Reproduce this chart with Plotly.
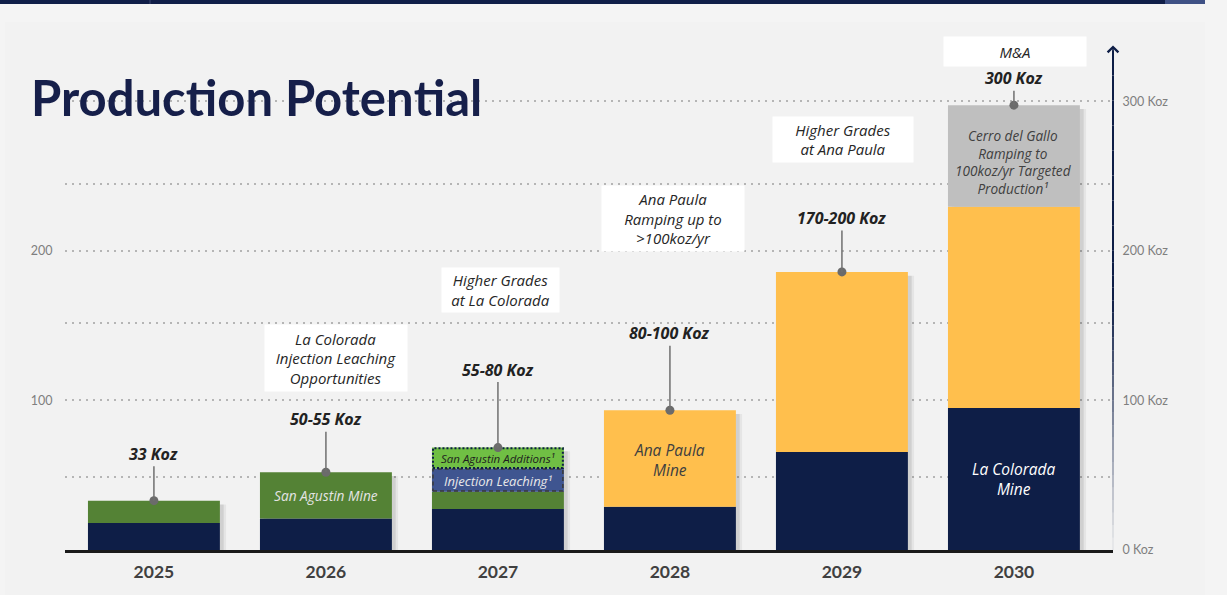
import plotly.graph_objects as go

# ---------------- data ----------------
years = ["2025", "2026", "2027", "2028", "2029", "2030"]
la_colorada = [18, 21, 27.5, 29, 65.5, 95]
san_agustin = [15, 31, 11.5, 0, 0, 0]
injection_leaching = [0, 0, 15.5, 0, 0, 0]
san_agustin_additions = [0, 0, 14, 0, 0, 0]
ana_paula = [0, 0, 0, 64.5, 120.5, 134.5]
cerro_del_gallo = [0, 0, 0, 0, 0, 68]
value_labels = ["33 Koz", "50-55 Koz", "55-80 Koz", "80-100 Koz", "170-200 Koz", "300 Koz"]
descriptions = [None,
                "La Colorada<br>Injection Leaching<br>Opportunities",
                "Higher Grades<br>at La Colorada",
                "Ana Paula<br>Ramping up to<br>&gt;100koz/yr",
                "Higher Grades<br>at Ana Paula",
                "M&amp;A"]
right_ticks = [0, 100, 200, 300]
right_ticktext = ["0 Koz", "100 Koz", "200 Koz", "300 Koz"]
left_ticks = [49, 100, 152, 200, 245, 300]
left_ticktext = ["", "100", "", "200", "", ""]

# ---------------- layout constants ----------------
W, H = 1227, 595
ML, MR, MT, MB = 65, 114, 40, 45
PW, PH = W - ML - MR, H - MT - MB
YMAX = 341.1
XMIN, XMAX = -0.517, 5.576
BW = 0.767
IT = "Open Sans"

NAVY = "#0e1e47"
GREEN = "#548235"
LGREEN = "#70bf44"
BLUE = "#3f5590"
YELLOW = "#ffbf4d"
GRAY = "#bfbfbf"

def px_x(px):
    return (px - ML) / PW

def px_y(py):
    return (H - MB - py) / PH

x = list(range(len(years)))
series = [
    ("La Colorada", la_colorada, NAVY),
    ("San Agustin", san_agustin, GREEN),
    ("Injection Leaching", injection_leaching, BLUE),
    ("San Agustin Additions", san_agustin_additions, LGREEN),
    ("Ana Paula", ana_paula, YELLOW),
    ("Cerro del Gallo", cerro_del_gallo, GRAY),
]
totals = [sum(s[1][i] for s in series) for i in x]

fig = go.Figure()

# soft shadows
for off, col in [(0.036, "rgba(0,0,0,0.05)"), (0.022, "rgba(0,0,0,0.09)")]:
    fig.add_trace(go.Bar(x=x, y=[t - 2.5 for t in totals], base=[0] * len(x),
                         width=BW, offset=-BW / 2 + off,
                         marker=dict(color=col, line=dict(width=0)),
                         hoverinfo="skip", showlegend=False))

bases = {}
cum = [0] * len(x)
for name, vals, col in series:
    bases[name] = list(cum)
    fig.add_trace(go.Bar(x=x, y=vals, base=list(cum), width=BW, offset=-BW / 2,
                         name=name, marker=dict(color=col, line=dict(width=0)),
                         showlegend=False))
    cum = [c + v for c, v in zip(cum, vals)]

# borders for 2027 sub-segments
def outline(i, b, h, color, dash, w):
    x0, x1 = i - BW / 2 + 0.006, i + BW / 2 - 0.006
    y0, y1 = b + 0.4, b + h - 0.4
    fig.add_trace(go.Scatter(x=[x0, x1, x1, x0, x0], y=[y0, y0, y1, y1, y0],
                             mode="lines", line=dict(color=color, dash=dash, width=w),
                             hoverinfo="skip", showlegend=False))

for i in x:
    if injection_leaching[i] > 0:
        outline(i, bases["Injection Leaching"][i], injection_leaching[i], "#3a3a3a", "4px,3px", 1.5)
    if san_agustin_additions[i] > 0:
        outline(i, bases["San Agustin Additions"][i], san_agustin_additions[i], NAVY, "2px,2px", 2)

# dots on top of bars
fig.add_trace(go.Scatter(x=x, y=totals, mode="markers",
                         marker=dict(color="#6b6b6b", size=9),
                         hoverinfo="skip", showlegend=False))

# dummy trace for right axis
fig.add_trace(go.Scatter(x=[0], y=[0], yaxis="y2", mode="markers",
                         marker=dict(opacity=0), hoverinfo="skip", showlegend=False))

annotations = []
shapes = []

# value labels with connector lines
label_offsets = [47, 53, 78, 77, 54, 27]
for i in x:
    annotations.append(dict(x=i, y=totals[i], xref="x", yref="y", ax=0, ay=-label_offsets[i],
                            text="<b><i>%s</i></b>" % value_labels[i], showarrow=True,
                            arrowhead=0, arrowwidth=1.5, arrowcolor="#707070",
                            font=dict(family=IT, size=16, color="#222222",
                                      style="italic", weight="bold")))

# description boxes
box_y = [None, 128.5, 173.9, 221.7, 274.6, 333.4]
box_w = [None, 142, 117, 142, 140, 142]
box_h = [None, 66, 44, 65, 45, 29]
box_dx = [0, 10, 3, 3, 1, 1]
for i in x:
    if descriptions[i]:
        annotations.append(dict(x=i, y=box_y[i], xref="x", yref="y", xshift=box_dx[i],
                                text="<i>%s</i>" % descriptions[i], showarrow=False,
                                bgcolor="white", width=box_w[i], height=box_h[i],
                                borderpad=0, align="center", valign="middle",
                                font=dict(family=IT, size=15, color="#262626",
                                          style="italic")))

# labels inside bars
def seg_mid(name, i):
    v = dict((s[0], s[1]) for s in series)[name][i]
    return bases[name][i] + v / 2

inside = [
    (1, "San Agustin", "San Agustin Mine", "#e4e4e4", 13.7, 0),
    (2, "San Agustin Additions", "San Agustin Additions¹", "#1e1e1e", 11.5, 0),
    (2, "Injection Leaching", "Injection Leaching¹", "#e8e8e8", 13, -1),
    (3, "Ana Paula", "Ana Paula<br>Mine", "#404040", 15.5, -2),
    (5, "La Colorada", "La Colorada<br>Mine", "#ffffff", 15.5, 0),
    (5, "Cerro del Gallo", "Cerro del Gallo<br>Ramping to<br>100koz/yr Targeted<br>Production¹", "#404040", 13.6, -6),
]
for i, name, txt, col, sz, ys in inside:
    annotations.append(dict(x=i, y=seg_mid(name, i), xref="x", yref="y", yshift=ys,
                            text="<i>%s</i>" % txt, showarrow=False,
                            font=dict(family=IT, size=sz, color=col, style="italic")))

# title (zero-width non-joiners avoid the "ti" ligature)
annotations.append(dict(x=px_x(29), y=px_y(97), xref="paper", yref="paper",
                        xanchor="left", yanchor="middle", showarrow=False,
                        text="<b>Produc\u200ction Poten\u200ctial</b>",
                        font=dict(family="Lato", size=49, color="#161f4a")))

# right axis arrow (gradient line + head)
n = 40
top = 334
for k in range(n):
    y0 = top * k / n
    y1 = top * (k + 1) / n
    a = min(1.0, 0.05 + (y0 / 170.0) ** 1.1)
    shapes.append(dict(type="line", xref="x domain", yref="y", x0=1, x1=1, y0=y0, y1=y1,
                       line=dict(color="rgba(14,30,71,%.3f)" % a, width=2), layer="above"))
annotations.append(dict(x=1, y=337.5, xref="x domain", yref="y", ax=1, ay=325,
                        axref="x domain", ayref="y", showarrow=True, arrowhead=4,
                        arrowsize=1.3, arrowwidth=1.6, arrowcolor=NAVY, text=""))

# background panel and top bar
shapes.append(dict(type="rect", xref="paper", yref="paper", x0=px_x(5), x1=px_x(1205),
                   y0=px_y(595), y1=px_y(22), fillcolor="#f2f2f2", line=dict(width=0),
                   layer="below"))
shapes.append(dict(type="rect", xref="paper", yref="paper", x0=px_x(0), x1=px_x(1165),
                   y0=px_y(4), y1=px_y(0), fillcolor="#101e48", line=dict(width=0)))
shapes.append(dict(type="rect", xref="paper", yref="paper", x0=px_x(1165), x1=px_x(1205),
                   y0=px_y(4), y1=px_y(0), fillcolor="#3f5185", line=dict(width=0)))
shapes.append(dict(type="line", xref="paper", yref="paper", x0=px_x(150), x1=px_x(150),
                   y0=px_y(4), y1=px_y(0), line=dict(color="#3a4670", width=1)))

fig.update_layout(
    width=W, height=H,
    margin=dict(l=ML, r=MR, t=MT, b=MB, pad=0),
    paper_bgcolor="#f4f4f4", plot_bgcolor="rgba(0,0,0,0)",
    barmode="overlay",
    showlegend=False,
    annotations=annotations,
    shapes=shapes,
    xaxis=dict(range=[XMIN, XMAX], tickvals=x, ticktext=years, showgrid=False,
               zeroline=False, showline=True, linecolor="#1a1a1a", linewidth=3,
               ticks="outside", ticklen=4, tickcolor="rgba(0,0,0,0)",
               tickfont=dict(family="Lato", size=17.5, color="#404040", weight="bold"),
               fixedrange=True),
    yaxis=dict(range=[0, YMAX], tickvals=left_ticks, ticktext=left_ticktext,
               showgrid=True, gridcolor="#b5b5b5", griddash="2px,5px", gridwidth=1.5,
               zeroline=False, showline=False, layer="above traces",
               ticks="outside", ticklen=9, tickcolor="rgba(0,0,0,0)",
               tickfont=dict(family="Lato", size=12.5, color="#7f7f7f"),
               fixedrange=True),
    yaxis2=dict(range=[0, YMAX], overlaying="y", side="right", anchor="x",
                tickvals=right_ticks, ticktext=right_ticktext, showgrid=False,
                zeroline=False, showline=False, ticks="outside", ticklen=6,
                tickcolor="rgba(0,0,0,0)",
                tickfont=dict(family="Lato", size=12.5, color="#7f7f7f"),
                fixedrange=True),
)

fig.write_html("out.html", config={"displayModeBar": False})
